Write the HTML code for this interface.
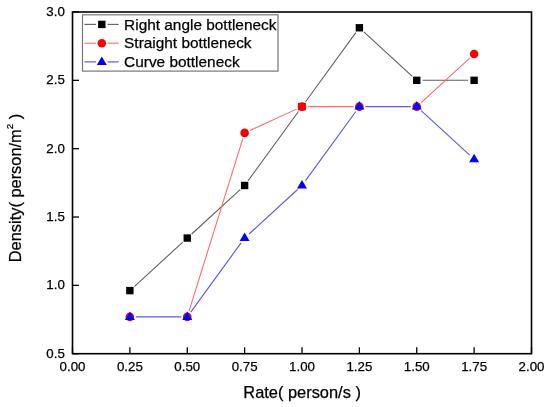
<!DOCTYPE html><html><head><meta charset="utf-8"><style>html,body{margin:0;padding:0;background:#fff;}svg{display:block;}</style></head><body>
<svg width="550" height="407" viewBox="0 0 550 407" font-family='"Liberation Sans", Arial, sans-serif'>
<style>text{fill:#000;stroke:#000;stroke-width:0.25px;}</style>
<rect width="550" height="407" fill="#fff"/>
<path d="M134.30,286.56 L182.83,242.10 M191.67,233.99 L240.20,189.53 M248.16,180.63 L298.47,111.48 M305.53,101.77 L355.84,32.62 M363.80,31.82 L412.33,76.29 M422.75,80.34 L468.12,80.34" fill="none" stroke="#5c5c5c" stroke-width="1.05"/>
<rect x="126.17" y="286.92" width="7.4" height="7.4" fill="#000"/>
<rect x="183.55" y="234.35" width="7.4" height="7.4" fill="#000"/>
<rect x="240.93" y="181.78" width="7.4" height="7.4" fill="#000"/>
<rect x="298.30" y="102.92" width="7.4" height="7.4" fill="#000"/>
<rect x="355.68" y="24.07" width="7.4" height="7.4" fill="#000"/>
<rect x="413.05" y="76.64" width="7.4" height="7.4" fill="#000"/>
<rect x="470.43" y="76.64" width="7.4" height="7.4" fill="#000"/>
<path d="M189.04,311.17 L242.84,138.64 M250.08,130.41 L296.55,109.12 M308.00,106.62 L353.38,106.62 M421.17,102.57 L469.70,58.11" fill="none" stroke="#f66" stroke-width="1.05"/>
<circle cx="129.88" cy="316.90" r="4.3" fill="#f00"/>
<circle cx="187.25" cy="316.90" r="4.3" fill="#f00"/>
<circle cx="244.62" cy="132.91" r="4.3" fill="#f00"/>
<circle cx="302.00" cy="106.62" r="4.3" fill="#f00"/>
<circle cx="359.38" cy="106.62" r="4.3" fill="#f00"/>
<circle cx="416.75" cy="106.62" r="4.3" fill="#f00"/>
<circle cx="474.12" cy="54.06" r="4.3" fill="#f00"/>
<path d="M135.88,316.90 L181.25,316.90 M190.78,312.05 L241.09,242.90 M249.05,233.99 L297.58,189.53 M305.53,180.63 L355.84,111.48 M365.38,106.62 L410.75,106.62 M421.17,110.68 L469.70,155.14" fill="none" stroke="#5858ff" stroke-width="1.15"/>
<path d="M129.88,311.40 L134.88,319.90 L124.88,319.90Z" fill="#00f"/>
<path d="M187.25,311.40 L192.25,319.90 L182.25,319.90Z" fill="#00f"/>
<path d="M244.62,232.55 L249.62,241.05 L239.62,241.05Z" fill="#00f"/>
<path d="M302.00,179.98 L307.00,188.48 L297.00,188.48Z" fill="#00f"/>
<path d="M359.38,101.12 L364.38,109.62 L354.38,109.62Z" fill="#00f"/>
<path d="M416.75,101.12 L421.75,109.62 L411.75,109.62Z" fill="#00f"/>
<path d="M474.12,153.69 L479.12,162.19 L469.12,162.19Z" fill="#00f"/>
<rect x="72.5" y="12.0" width="459.0" height="341.7" fill="none" stroke="#000" stroke-width="1.6"/>
<line x1="72.50" y1="353.7" x2="72.50" y2="347.2" stroke="#000" stroke-width="1.3"/>
<text x="72.50" y="371.1" font-size="13.3" text-anchor="middle">0.00</text>
<line x1="129.88" y1="353.7" x2="129.88" y2="347.2" stroke="#000" stroke-width="1.3"/>
<text x="129.88" y="371.1" font-size="13.3" text-anchor="middle">0.25</text>
<line x1="187.25" y1="353.7" x2="187.25" y2="347.2" stroke="#000" stroke-width="1.3"/>
<text x="187.25" y="371.1" font-size="13.3" text-anchor="middle">0.50</text>
<line x1="244.62" y1="353.7" x2="244.62" y2="347.2" stroke="#000" stroke-width="1.3"/>
<text x="244.62" y="371.1" font-size="13.3" text-anchor="middle">0.75</text>
<line x1="302.00" y1="353.7" x2="302.00" y2="347.2" stroke="#000" stroke-width="1.3"/>
<text x="302.00" y="371.1" font-size="13.3" text-anchor="middle">1.00</text>
<line x1="359.38" y1="353.7" x2="359.38" y2="347.2" stroke="#000" stroke-width="1.3"/>
<text x="359.38" y="371.1" font-size="13.3" text-anchor="middle">1.25</text>
<line x1="416.75" y1="353.7" x2="416.75" y2="347.2" stroke="#000" stroke-width="1.3"/>
<text x="416.75" y="371.1" font-size="13.3" text-anchor="middle">1.50</text>
<line x1="474.12" y1="353.7" x2="474.12" y2="347.2" stroke="#000" stroke-width="1.3"/>
<text x="474.12" y="371.1" font-size="13.3" text-anchor="middle">1.75</text>
<line x1="531.50" y1="353.7" x2="531.50" y2="347.2" stroke="#000" stroke-width="1.3"/>
<text x="531.50" y="371.1" font-size="13.3" text-anchor="middle">2.00</text>
<line x1="72.5" y1="353.70" x2="79.0" y2="353.70" stroke="#000" stroke-width="1.3"/>
<text x="64.8" y="357.70" font-size="13.3" text-anchor="end">0.5</text>
<line x1="72.5" y1="285.36" x2="79.0" y2="285.36" stroke="#000" stroke-width="1.3"/>
<text x="64.8" y="289.36" font-size="13.3" text-anchor="end">1.0</text>
<line x1="72.5" y1="217.02" x2="79.0" y2="217.02" stroke="#000" stroke-width="1.3"/>
<text x="64.8" y="221.02" font-size="13.3" text-anchor="end">1.5</text>
<line x1="72.5" y1="148.68" x2="79.0" y2="148.68" stroke="#000" stroke-width="1.3"/>
<text x="64.8" y="152.68" font-size="13.3" text-anchor="end">2.0</text>
<line x1="72.5" y1="80.34" x2="79.0" y2="80.34" stroke="#000" stroke-width="1.3"/>
<text x="64.8" y="84.34" font-size="13.3" text-anchor="end">2.5</text>
<line x1="72.5" y1="12.00" x2="79.0" y2="12.00" stroke="#000" stroke-width="1.3"/>
<text x="64.8" y="16.00" font-size="13.3" text-anchor="end">3.0</text>
<text x="302.1" y="397.8" font-size="16.4" text-anchor="middle">Rate( person/s )</text>
<text transform="translate(21.3,188) rotate(-90)" font-size="16.4" text-anchor="middle">Density( person/m<tspan font-size="9.8" dy="-8.4">2</tspan><tspan dy="8.4"> )</tspan></text>
<rect x="82.5" y="14.8" width="195.5" height="56.3" fill="#fff" stroke="#777" stroke-width="1.2"/>
<line x1="84.4" y1="24.4" x2="96" y2="24.4" stroke="#666" stroke-width="1.15"/>
<line x1="107.5" y1="24.4" x2="118.7" y2="24.4" stroke="#666" stroke-width="1.15"/>
<rect x="98.10" y="20.70" width="7.4" height="7.4" fill="#000"/>
<text x="124.1" y="29.50" font-size="15.4">Right angle bottleneck</text>
<line x1="84.4" y1="43.2" x2="96" y2="43.2" stroke="#f77" stroke-width="1.15"/>
<line x1="107.5" y1="43.2" x2="118.7" y2="43.2" stroke="#f77" stroke-width="1.15"/>
<circle cx="101.80" cy="43.20" r="4.3" fill="#f00"/>
<text x="124.1" y="48.30" font-size="15.4">Straight bottleneck</text>
<line x1="84.4" y1="61.9" x2="96" y2="61.9" stroke="#5050ff" stroke-width="1.15"/>
<line x1="107.5" y1="61.9" x2="118.7" y2="61.9" stroke="#5050ff" stroke-width="1.15"/>
<path d="M101.80,56.40 L106.80,64.90 L96.80,64.90Z" fill="#00f"/>
<text x="124.1" y="67.00" font-size="15.4">Curve bottleneck</text>
</svg></body></html>
